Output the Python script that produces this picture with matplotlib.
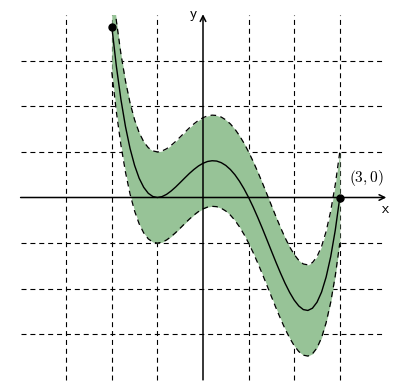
import numpy as np
import matplotlib.pyplot as plt
from matplotlib.patches import Rectangle

plt.rcParams['mathtext.fontset'] = 'cm'

# curve values, x from -2 to 3 in steps of 0.1
x_vals = np.round(np.arange(-2.0, 3.0001, 0.1), 1)
y_vals = [3.750, 2.878, 2.150, 1.555, 1.076, 0.703, 0.422, 0.223, 0.092, 0.022,
          0.000, 0.019, 0.068, 0.142, 0.230, 0.328, 0.428, 0.526, 0.614, 0.691,
          0.750, 0.790, 0.806, 0.799, 0.764, 0.703, 0.614, 0.499, 0.356, 0.190,
          0.000, -0.209, -0.436, -0.674, -0.922, -1.172, -1.420, -1.658, -1.882, -2.081,
          -2.250, -2.378, -2.458, -2.477, -2.428, -2.297, -2.074, -1.745, -1.300, -0.722,
          0.000]
band_width = 1.0            # band reaches one unit above and below the curve
grid_ticks = [-3, -2, -1, 1, 2, 3]
end_points_x = [-2, 3]
end_points_y = [3.75, 0.0]
point_label = r'$(3,0)$'

y_vals = np.array(y_vals)
upper = y_vals + band_width
lower = y_vals - band_width

fig = plt.figure(figsize=(4.12, 3.90), dpi=100)
ax = fig.add_axes([0, 0, 1, 1])
ax.set_xlim(-203 / 45.6, 209 / 45.6)
ax.set_ylim(-192.5 / 45.6, 197.5 / 45.6)
ax.axis('off')

# the picture is clipped to the square [-4, 4] x [-4, 4]
box = Rectangle((-4, -4), 8, 8, transform=ax.transData)

dash = (0, (4.5, 3.5))
for g in grid_ticks:
    ax.plot([g, g], [-4, 4], color='black', lw=0.8, linestyle=dash, zorder=1)
    ax.plot([-4, 4], [g, g], color='black', lw=0.8, linestyle=dash, zorder=1)

# shaded band and its dashed edges
band = ax.fill_between(x_vals, lower, upper, color='#97c397', lw=0, zorder=2)
band.set_clip_path(box)
for edge in (upper, lower):
    ln, = ax.plot(x_vals, edge, color='black', lw=0.9, linestyle=dash, zorder=3)
    ln.set_clip_path(box)

# axes with arrow heads
arrow = dict(arrowstyle='->', color='black', lw=1.1, shrinkA=0, shrinkB=0,
             mutation_scale=10)
ax.annotate('', xy=(4.02, 0), xytext=(-4, 0), arrowprops=arrow, zorder=4)
ax.annotate('', xy=(0, 4.02), xytext=(0, -4), arrowprops=arrow, zorder=4)
ax.text(4.0, -0.08, r'$\mathsf{x}$', fontsize=11, ha='center', va='top')
ax.text(-0.12, 4.0, r'$\mathsf{y}$', fontsize=11, ha='right', va='center')

# the curve itself and its end points
ax.plot(x_vals, y_vals, color='black', lw=1.0, zorder=5)
ax.plot(end_points_x, end_points_y, 'o', color='black', ms=5, zorder=6)
ax.text(3.2, 0.2, point_label, fontsize=11, ha='left', va='bottom')

plt.savefig('out.png', dpi=100)
